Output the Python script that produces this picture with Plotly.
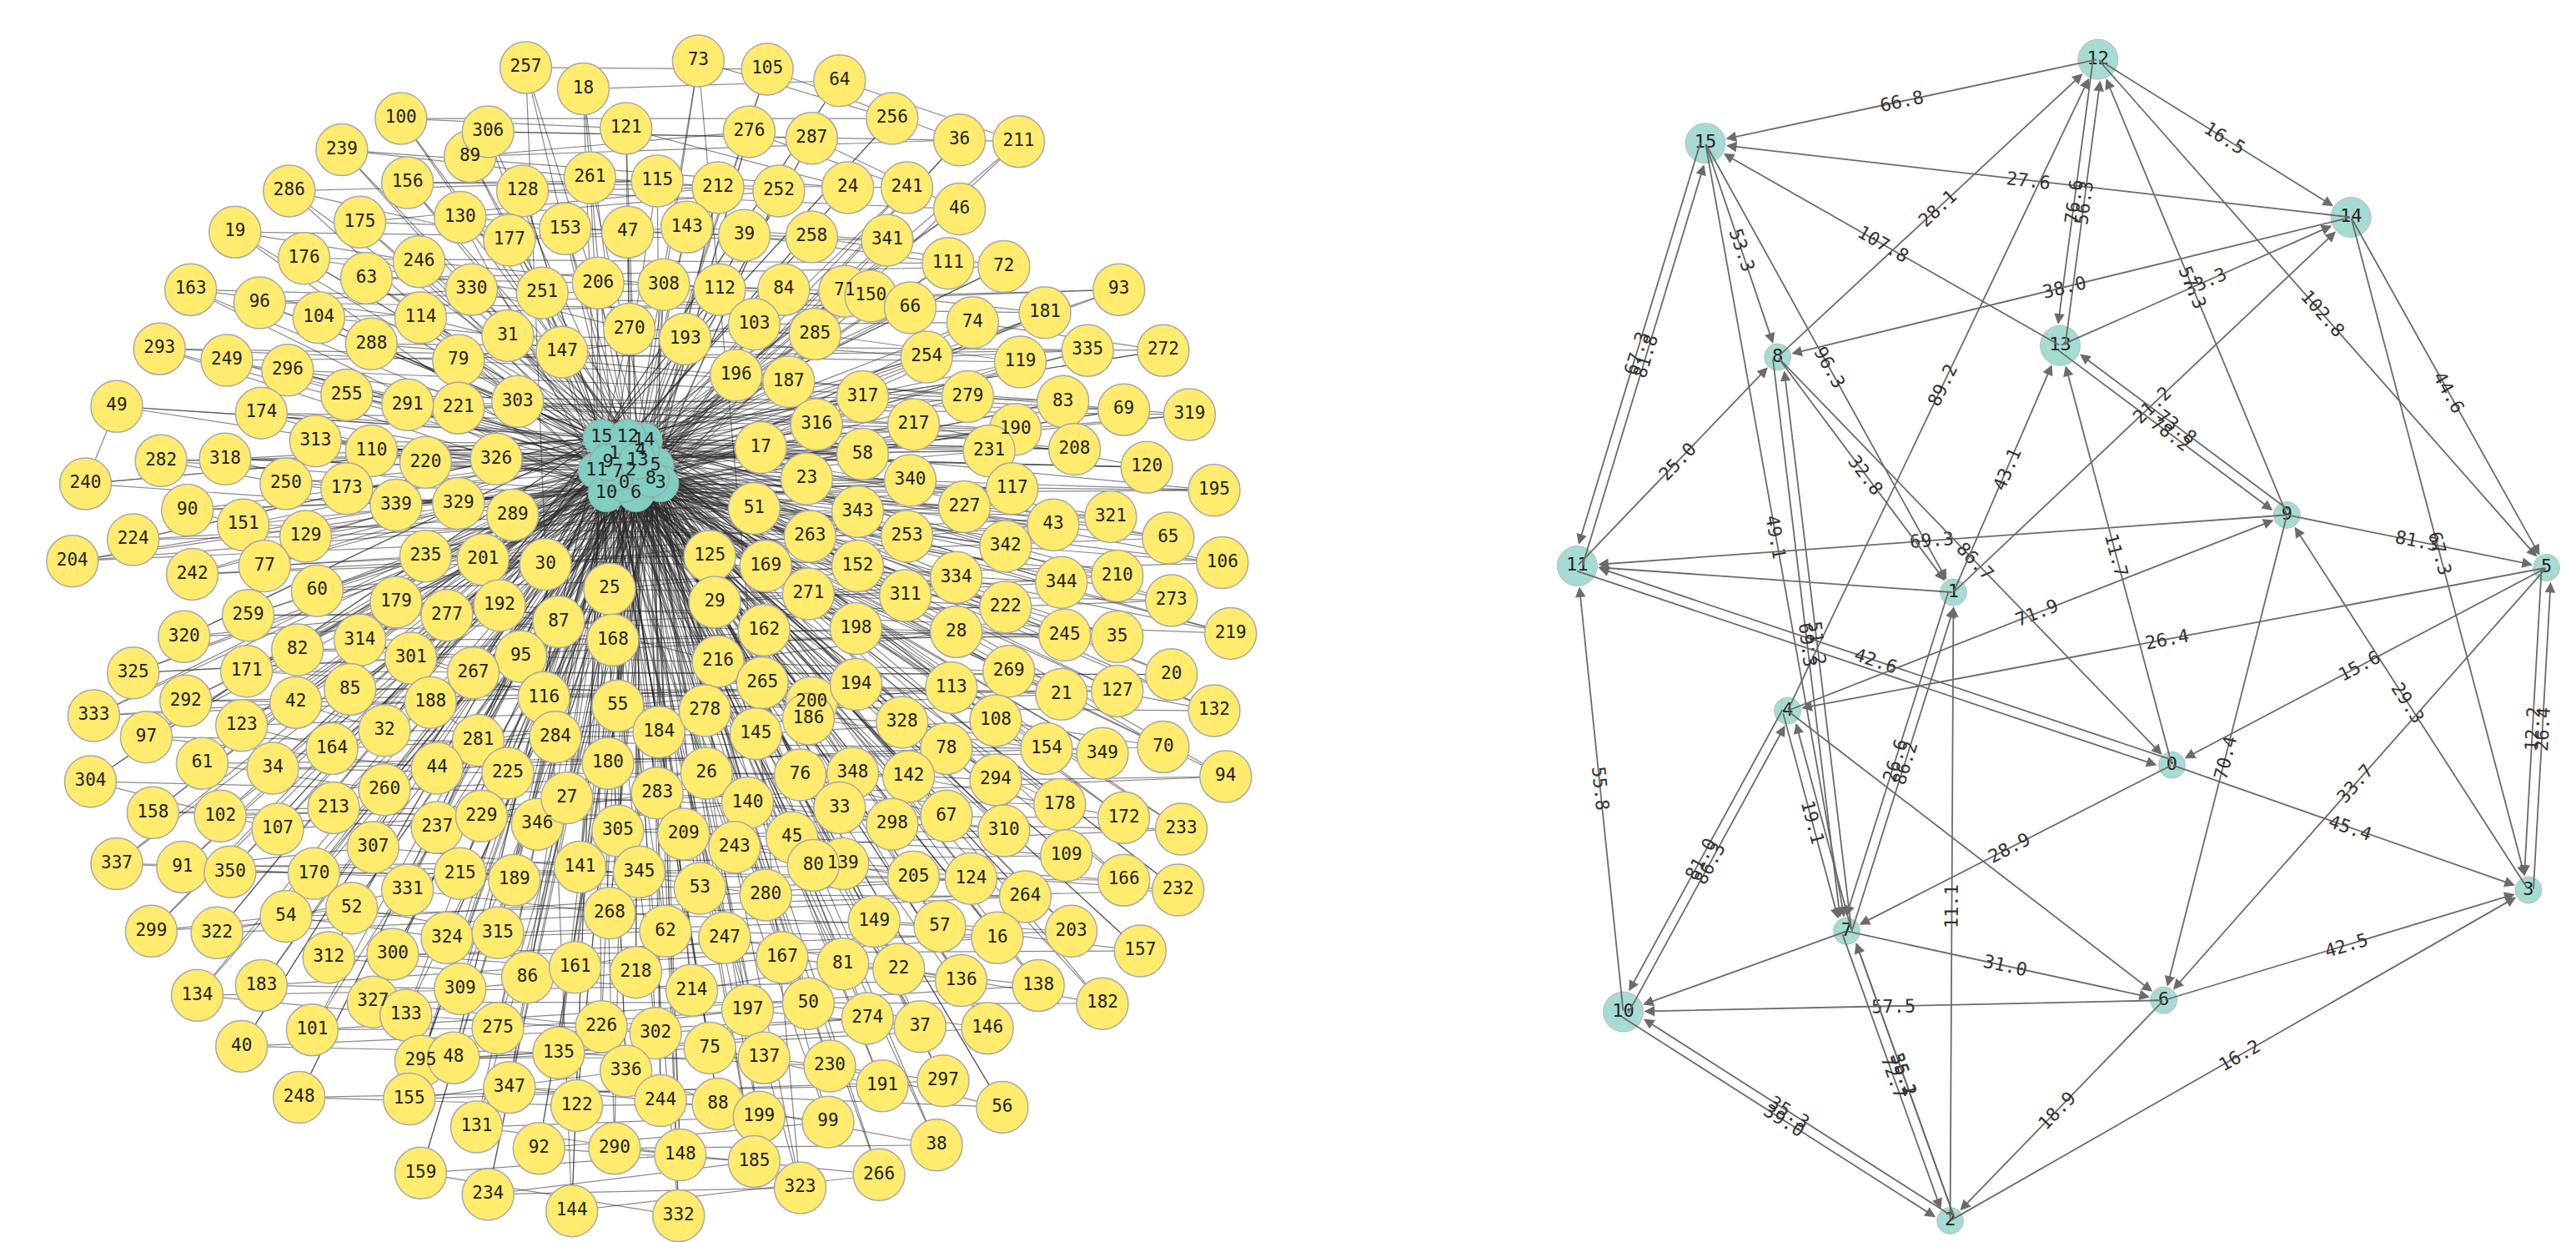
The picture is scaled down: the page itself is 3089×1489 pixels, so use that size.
import math
import plotly.graph_objects as go

# ---- left graph: yellow nodes (label, x, y) in picture units (1568 x 755)
yellow_labels = [257, 18, 73, 105, 64, 256, 36, 211, 100, 89, 306, 121, 276, 287, 24, 241, 46, 239, 156, 128, 261,
                 115, 212, 252, 286, 175, 130, 177, 153, 47, 143, 39, 258, 341, 111, 72, 19, 176, 63, 246, 251, 206,
                 308, 112, 84, 71, 150, 66, 181, 93, 163, 96, 104, 114, 330, 31, 147, 270, 193, 103, 285, 254, 74,
                 119, 335, 272, 293, 249, 288, 79, 221, 196, 187, 317, 279, 83, 69, 319, 296, 255, 291, 303, 316,
                 217, 190, 208, 120, 174, 313, 110, 220, 326, 17, 58, 231, 195, 49, 282, 318, 240, 250, 173, 339,
                 329, 289, 23, 343, 340, 117, 321, 90, 224, 204, 151, 129, 51, 253, 227, 342, 43, 65, 106, 77, 242,
                 60, 235, 201, 30, 125, 169, 263, 152, 344, 210, 25, 29, 271, 311, 334, 222, 273, 219, 259, 320,
                 179, 277, 192, 87, 168, 216, 162, 198, 28, 245, 35, 325, 82, 314, 301, 95, 267, 116, 269, 20, 127,
                 132, 171, 85, 55, 200, 265, 194, 113, 21, 333, 292, 123, 42, 188, 164, 32, 281, 284, 184, 278, 145,
                 186, 328, 108, 154, 349, 70, 97, 61, 34, 44, 260, 225, 180, 26, 348, 78, 142, 294, 178, 172, 94,
                 304, 158, 102, 107, 213, 237, 229, 346, 283, 27, 140, 76, 33, 298, 67, 310, 233, 305, 209, 243, 45,
                 139, 205, 109, 166, 337, 91, 350, 170, 307, 215, 189, 141, 345, 53, 280, 80, 124, 264, 232, 299,
                 322, 54, 52, 331, 324, 315, 268, 62, 149, 57, 16, 203, 157, 183, 312, 300, 309, 86, 161, 218, 214,
                 247, 167, 81, 22, 136, 138, 182, 134, 101, 327, 133, 275, 226, 302, 197, 50, 274, 37, 146, 40, 295,
                 48, 135, 75, 137, 230, 191, 297, 56, 248, 155, 347, 122, 336, 244, 88, 199, 99, 38, 131, 92, 290,
                 148, 185, 266, 159, 234, 144, 332, 323]
yellow_x = [316, 351, 421, 463, 507, 539, 580, 616, 240, 282, 293, 377, 452, 490, 512, 548, 580, 204, 244, 314, 355,
            396, 433, 470, 172, 215, 276, 306, 340, 378, 414, 449, 490, 536, 573, 607, 139, 181, 219, 251, 326, 360,
            400, 434, 473, 510, 526, 550, 632, 677, 112, 154, 190, 252, 283, 305, 338, 379, 413, 455, 492, 560, 588,
            617, 658, 704, 93, 134, 222, 275, 275, 444, 476, 521, 585, 643, 680, 720, 171, 207, 244, 311, 493,
            552, 614, 650, 694, 155, 188, 222, 255, 298, 459, 521, 598, 735, 67, 94, 133, 48, 170, 207, 237,
            275, 308, 487, 518, 550, 612, 672, 110, 77, 40, 144, 182, 455, 548, 583, 608, 637, 707, 740, 157, 113,
            189, 255, 290, 328, 428, 462, 489, 518, 642, 676, 367, 431, 488, 547, 578, 608, 709, 745, 147, 108,
            237, 268, 300, 336, 369, 433, 461, 517, 578, 644, 676, 77, 177, 215, 246, 313, 284, 327, 610, 709, 676,
            735, 146, 209, 372, 490, 460, 517, 575, 642, 53, 109, 143, 176, 258, 198, 230, 287, 334, 397, 425, 456,
            488, 545, 602, 633, 667, 704, 85, 119, 162, 262, 230, 305, 366, 426, 515, 572, 549, 602, 641, 680, 742,
            51, 89, 130, 165, 199, 262, 289, 323, 396, 341, 451, 483, 507, 539, 572, 607, 715, 372, 412, 443, 478,
            509, 552, 645, 680, 67, 107, 136, 187, 223, 276, 309, 349, 385, 422, 462, 491, 587, 620, 713, 88,
            128, 170, 210, 244, 268, 299, 367, 401, 528, 568, 603, 648, 690, 155, 196, 235, 276, 317, 346, 383, 417,
            437, 472, 509, 543, 581, 628, 667, 116, 186, 223, 243, 299, 362, 395, 451, 488, 524, 556, 597, 143, 252,
            272, 336, 428, 461, 501, 533, 570, 606, 178, 245, 306, 347, 377, 398, 433, 458, 500, 566, 286, 324, 370,
            410, 455, 531, 252, 293, 344, 409, 483]
yellow_y = [37, 50, 33, 38, 45, 68, 81, 82, 68, 91, 76, 74, 76, 80, 110, 110, 123, 87, 107, 112, 104,
            106, 110, 112, 112, 131, 128, 142, 135, 137, 134, 139, 140, 142, 156, 158, 137, 153, 165, 155, 174, 168,
            169, 172, 172, 173, 176, 183, 186, 172, 172, 180, 189, 189, 172, 200, 210, 196, 202, 193, 199, 213, 192,
            216, 209, 209, 208, 215, 205, 215, 244, 224, 228, 237, 237, 240, 245, 248, 221, 236, 242, 240, 254,
            254, 257, 269, 280, 247, 264, 270, 277, 275, 268, 272, 270, 294, 243, 276, 275, 290, 290, 293, 303,
            302, 309, 287, 307, 288, 293, 310, 306, 324, 337, 315, 322, 305, 322, 304, 328, 315, 323, 338, 340, 345,
            355, 334, 336, 339, 334, 340, 322, 340, 350, 346, 354, 362, 357, 358, 347, 365, 361, 381, 370, 383,
            362, 370, 364, 374, 385, 398, 379, 378, 380, 382, 383, 405, 391, 385, 396, 395, 405, 420, 404, 406, 416,
            428, 404, 415, 425, 423, 411, 412, 414, 418, 431, 422, 437, 423, 423, 451, 440, 446, 444, 441, 428, 442,
            433, 435, 434, 451, 454, 450, 444, 460, 463, 463, 476, 466, 460, 466, 466, 451, 468, 470, 485, 493, 468,
            471, 490, 492, 500, 487, 499, 492, 497, 478, 481, 484, 467, 487, 497, 492, 501, 500, 501, 503, 511, 505,
            521, 529, 516, 531, 521, 523, 526, 527, 511, 527, 531, 523, 526, 536, 540, 522, 530, 541, 537, 562,
            563, 553, 548, 537, 566, 563, 551, 562, 556, 559, 566, 562, 574, 595, 578, 576, 597, 590, 584, 587, 598,
            566, 578, 582, 585, 592, 595, 606, 601, 622, 605, 613, 621, 620, 624, 610, 606, 615, 620, 621, 632, 641,
            639, 636, 633, 639, 644, 656, 653, 669, 663, 664, 657, 668, 647, 665, 667, 675, 678, 692, 681, 694, 694,
            698, 702, 710, 709, 722, 732, 735, 718]

# central cluster of teal nodes
center_labels = [15, 14, 11, 10, 5, 3, 6, 0, 1, 2, 4, 7, 8, 9, 12, 13]
center_x = [362, 388, 359, 365, 395, 398, 383, 376, 370, 380, 386, 372, 392, 366, 378, 384]
center_y = [262, 264, 282, 296, 279, 290, 296, 290, 272, 282, 270, 283, 287, 277, 262, 276]

# ---- right graph: nodes and weighted directed edges
node_labels = [15, 12, 14, 8, 13, 11, 9, 5, 1, 4, 0, 3, 7, 10, 6, 2]
node_x = [1034, 1273, 1427, 1078, 1250, 956, 1388, 1546, 1185, 1084, 1318, 1535, 1120, 984, 1313, 1183]
node_y = [83, 32, 128, 213, 206, 340, 309, 341, 356, 428, 461, 537, 562, 611, 604, 738]
node_big = [15, 12, 14, 13, 11, 10]

edge_src = [12, 12, 15, 15, 15, 11, 15, 11, 8, 13, 14, 12, 13, 14, 13, 9, 9, 12, 14, 9, 14, 5, 3, 13, 0, 9,
            3, 5, 0, 5, 6, 2, 6, 6, 7, 0, 7, 9, 1, 0, 5, 4, 8, 8, 1, 1, 4, 10, 10, 4, 7, 8, 4, 7, 1, 7, 2, 2,
            7, 2, 2, 10, 11, 4]
edge_dst = [15, 14, 8, 1, 7, 15, 11, 8, 12, 15, 15, 13, 12, 8, 14, 12, 13, 5, 5, 5, 3, 3, 5, 9, 13, 6,
            9, 0, 3, 6, 3, 3, 2, 10, 6, 7, 10, 11, 11, 11, 4, 9, 1, 0, 13, 14, 12, 11, 4, 10, 8, 7, 7, 4, 7, 1,
            1, 7, 2, 7, 10, 2, 0, 6]
edge_w = ["66.8", "16.5", "53.3", "96.3", "49.1", "81.8", "67.3", "25.0", "28.1", "107.8", "27.6", "76.6",
          "56.3", "38.0", "33.3", "57.3", "73.8", "102.8", "44.6", "81.3", "67.3", "12.2", "26.4", "78.2",
          "11.7", "70.4", "29.3", "15.6", "45.4", "33.7", "42.5", "16.2", "18.9", "57.5", "31.0", "28.9", "",
          "69.3", "", "42.6", "26.4", "71.9", "32.8", "86.7", "43.1", "21.2", "89.2", "55.8", "86.3", "81.0",
          "51.2", "69.3", "19.1", "", "26.6", "86.2", "11.1", "36.2", "72.7", "55.1", "35.3", "39.0", "", ""]

S = 1.97  # picture units -> screen px
fig = go.Figure()

# left graph edges: every yellow node to a hub in the cluster and to its list neighbour
ex, ey = [], []
for i, lab in enumerate(yellow_labels):
    h = lab % 16
    ex += [yellow_x[i], center_x[h], None]
    ey += [yellow_y[i], center_y[h], None]
    h2 = (lab * 7) % 16
    ex += [yellow_x[i], center_x[h2], None]
    ey += [yellow_y[i], center_y[h2], None]
    j = (i + 3) % len(yellow_labels)
    ex += [yellow_x[i], yellow_x[j], None]
    ey += [yellow_y[i], yellow_y[j], None]
fig.add_trace(go.Scatter(x=ex, y=ey, mode='lines', line=dict(color='rgba(40,40,40,0.55)', width=1.2),
                         hoverinfo='skip'))

fig.add_trace(go.Scatter(x=center_x, y=center_y, mode='markers+text', text=center_labels,
                         marker=dict(size=44, color='#80cdc1', line=dict(color='#9a9a9a', width=1)),
                         textfont=dict(family='DejaVu Sans Mono', size=22, color='#222')))
fig.add_trace(go.Scatter(x=yellow_x, y=yellow_y, mode='markers+text', text=yellow_labels,
                         marker=dict(size=62, color='#ffeb6e', line=dict(color='#a8a8a8', width=1.5)),
                         textfont=dict(family='DejaVu Sans Mono', size=21, color='#222')))

# right graph edges
pos = {lab: (node_x[i], node_y[i]) for i, lab in enumerate(node_labels)}
pairs = set(zip(edge_src, edge_dst))
for s, d, w in zip(edge_src, edge_dst, edge_w):
    x0, y0 = pos[s]
    x1, y1 = pos[d]
    dx, dy = x1 - x0, y1 - y0
    L = math.hypot(dx, dy)
    off = 3 if (d, s) in pairs else 0
    px, py = -dy / L * off, dx / L * off
    x0, y0, x1, y1 = x0 + px, y0 + py, x1 + px, y1 + py
    r = 25 if d in node_big else 17
    fig.add_annotation(x=x1, y=y1, ax=x0, ay=y0, xref='x', yref='y', axref='x', ayref='y', text='',
                       showarrow=True, arrowhead=2, arrowsize=1.4, arrowwidth=1.8, arrowcolor='#6b6b6b',
                       standoff=r)
    if w:
        ang = math.degrees(math.atan2(dy, dx))
        if ang > 90:
            ang -= 180
        if ang < -90:
            ang += 180
        fig.add_annotation(x=(x0 + x1) / 2, y=(y0 + y1) / 2, text=w, showarrow=False, textangle=ang,
                           font=dict(family='DejaVu Sans Mono', size=22, color='#333'))

fig.add_trace(go.Scatter(x=node_x, y=node_y, mode='markers+text', text=node_labels,
                         marker=dict(size=[48 if n in node_big else 32 for n in node_labels], color='#80cdc1',
                                     line=dict(color='#a0a0a0', width=1)),
                         textfont=dict(family='DejaVu Sans Mono', size=22, color='#222')))

fig.update_layout(
    width=3089, height=1489, showlegend=False,
    paper_bgcolor='white', plot_bgcolor='white',
    margin=dict(l=0, r=0, t=0, b=0),
    xaxis=dict(range=[0, 1568], visible=False),
    yaxis=dict(range=[755, 0], visible=False),
)
fig.write_html("out.html")
